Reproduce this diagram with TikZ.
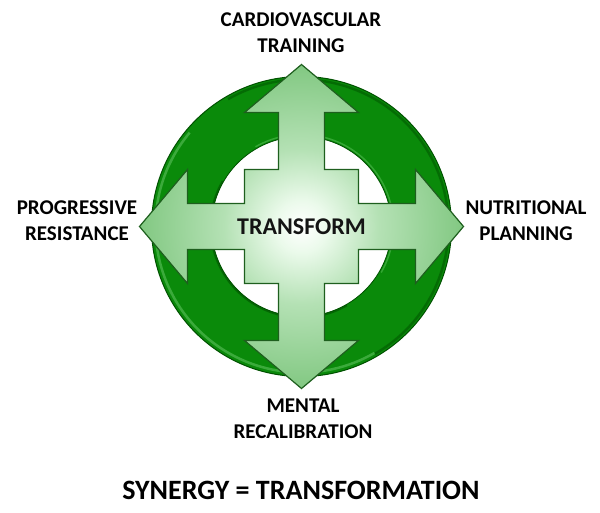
\documentclass[tikz,border=0pt]{standalone}
\usepackage{fontspec}
\setmainfont{Carlito}
\definecolor{ringgreen}{RGB}{10,138,10}
\definecolor{ringdark}{RGB}{0,80,0}
\definecolor{ringlight}{RGB}{80,185,80}
\definecolor{arrowedge}{RGB}{30,95,30}
\definecolor{ag1}{RGB}{235,250,235}
\definecolor{ag2}{RGB}{180,225,180}
\definecolor{ag3}{RGB}{130,200,130}
\definecolor{ag4}{RGB}{100,185,100}
\definecolor{ag5}{RGB}{85,170,85}
\pgfdeclareradialshading{arrowshade}{\pgfpoint{0bp}{0bp}}{color(0bp)=(white); color(4bp)=(ag1); color(12bp)=(ag2); color(25bp)=(ag3); color(35bp)=(ag4); color(50bp)=(ag5)}
\tikzset{
  lbl/.style={align=center, font=\fontsize{21}{26}\selectfont\bfseries, text=black, inner sep=0pt},
  centerlbl/.style={font=\fontsize{24}{26}\selectfont\bfseries, text=black!92, inner sep=0pt},
  titlelbl/.style={font=\fontsize{28}{32}\selectfont\bfseries, inner sep=0pt},
  arrowbody/.style={shading=arrowshade, draw=arrowedge, line width=1.2pt, line join=miter}
}
\begin{document}
\begin{tikzpicture}[x=1pt,y=-1pt]
\useasboundingbox (0,0) rectangle (600,512);
\coordinate (C) at (301.5,226.5);
\begin{scope}[shift={(301.5,226.5)}]
  % ring
  \fill[ringgreen, even odd rule] (0,0) circle (150pt) (0,0) circle (90pt);
  \draw[ringlight, line width=2.5pt, opacity=0.7] (0,0) ++(140:146pt) arc (140:300:146pt);
  \draw[ringdark, line width=2.5pt, opacity=0.5] (0,0) ++(-60:147pt) arc (-60:120:147pt);
  \draw[ringdark, line width=1pt] (0,0) circle (150pt);
  \draw[ringdark, line width=2pt, opacity=0.6] (0,0) ++(150:91pt) arc (150:300:91pt);
  \draw[ringlight, line width=1.5pt, opacity=0.6] (0,0) ++(-30:92pt) arc (-30:120:92pt);
  \draw[ringdark, line width=0.8pt] (0,0) circle (90pt);
  % arrow cross
  \def\a{23}\def\s{57}\def\b{114}\def\t{162}
  \path[arrowbody]
    (0,-\t) -- (\s,-\b) -- (\a,-\b) -- (\a,-\s) -- (\s,-\s) -- (\s,-\a) -- (\b,-\a) -- (\b,-\s)
    -- (\t,0) -- (\b,\s) -- (\b,\a) -- (\s,\a) -- (\s,\s) -- (\a,\s) -- (\a,\b) -- (\s,\b)
    -- (0,\t) -- (-\s,\b) -- (-\a,\b) -- (-\a,\s) -- (-\s,\s) -- (-\s,\a) -- (-\b,\a) -- (-\b,\s)
    -- (-\t,0) -- (-\b,-\s) -- (-\b,-\a) -- (-\s,-\a) -- (-\s,-\s) -- (-\a,-\s) -- (-\a,-\b) -- (-\s,-\b) -- cycle;
\end{scope}
\node[centerlbl] (transform) at (C) {TRANSFORM};
\node[lbl] (cardio) at (301,33) {CARDIOVASCULAR\\TRAINING};
\node[lbl] (prog) at (77,221) {PROGRESSIVE\\RESISTANCE};
\node[lbl] (nutri) at (526,221) {NUTRITIONAL\\PLANNING};
\node[lbl] (mental) at (303,419) {MENTAL\\RECALIBRATION};
\node[titlelbl, text=black] (synergy) at (301,490) {SYNERGY = TRANSFORMATION};
\end{tikzpicture}
\end{document}
